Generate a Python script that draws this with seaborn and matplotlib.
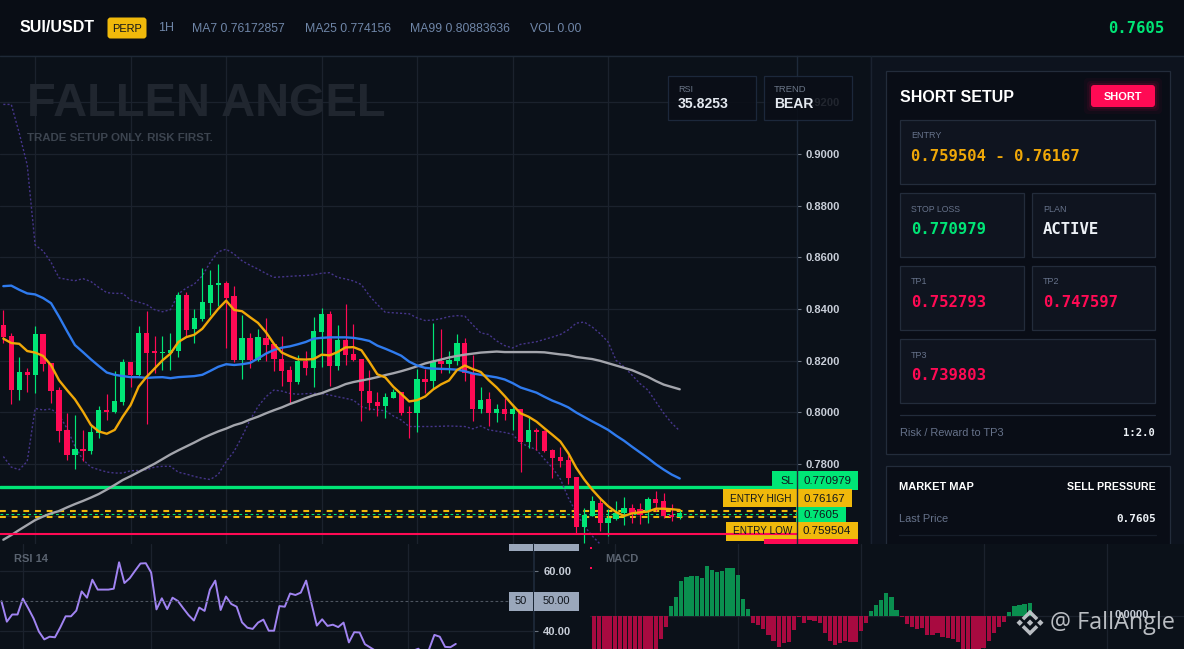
import numpy as np
import pandas as pd
import seaborn as sns
import matplotlib
matplotlib.use('Agg')
import matplotlib.pyplot as plt
from matplotlib.patches import Rectangle, FancyBboxPatch, Polygon

opens = [.8336,.8294,.8086,.8155,.8144,.8301,.8190,.8086,.7932,.7836,.7859,.7851,.7920,.8009,.8001,.8040,.8194,.8144,.8305,.8236,
         .8228,.8228,.8236,.8455,.8324,.8359,.8424,.8494,.8501,.8448,.8201,.8286,.8201,.8286,.8263,.8208,.8163,.8117,.8198,.8170,
         .8309,.8382,.8178,.8278,.8224,.8205,.8082,.8040,.8024,.8055,.8079,.8001,.7997,.8128,.8121,.8197,.8186,.8197,.8270,.8151,
         .8013,.8051,.7997,.8013,.7994,.8013,.7886,.7932,.7928,.7855,.7828,.7817,.7751,.7555,.7598,.7651,.7570,.7586,.7609,.7628,
         .7624,.7617,.7663,.7655,.7601,.7594]
closes = [.8290,.8087,.8155,.8144,.8301,.8186,.8082,.7928,.7836,.7859,.7851,.7924,.8009,.8001,.8044,.8194,.8144,.8305,.8228,.8228,
          .8232,.8240,.8455,.8320,.8363,.8428,.8494,.8501,.8444,.8201,.8286,.8201,.8290,.8259,.8205,.8159,.8117,.8198,.8170,.8313,
          .8382,.8178,.8278,.8221,.8201,.8082,.8036,.8024,.8059,.8078,.7997,.7997,.8128,.8117,.8197,.8186,.8201,.8270,.8151,.8013,
          .8047,.7997,.8013,.7994,.8013,.7886,.7932,.7924,.7851,.7824,.7813,.7747,.7555,.7601,.7655,.7570,.7590,.7612,.7628,.7609,
          .7601,.7663,.7651,.7597,.7594,.7609]
highs = [.8394,.8308,.8212,.8170,.8332,.8301,.8190,.8098,.7997,.7990,.7932,.7951,.8024,.8070,.8159,.8205,.8194,.8332,.8390,.8294,
         .8294,.8305,.8467,.8467,.8401,.8559,.8551,.8574,.8509,.8490,.8378,.8305,.8324,.8363,.8265,.8297,.8178,.8221,.8236,.8367,
         .8405,.8390,.8336,.8420,.8340,.8205,.8163,.8078,.8074,.8090,.8079,.8024,.8167,.8167,.8344,.8321,.8236,.8301,.8286,.8221,
         .8097,.8078,.8032,.8055,.8032,.8013,.7982,.7940,.7932,.7859,.7867,.7836,.7751,.7631,.7678,.7674,.7624,.7655,.7671,.7644,
         .7648,.7671,.7697,.7686,.7644,.7621]
lows = [.8268,.8032,.8047,.8078,.8074,.8159,.8036,.7886,.7816,.7782,.7813,.7840,.7901,.7970,.7997,.8028,.8098,.8140,.7955,.8151,
        .8163,.8163,.8213,.8294,.8270,.8355,.8378,.8413,.8247,.8193,.8128,.8170,.8197,.8197,.8159,.8101,.8036,.8109,.8144,.8098,
        .8174,.8101,.8163,.8182,.8197,.7967,.8009,.7986,.7978,.8055,.7990,.7901,.7924,.8074,.8090,.8151,.8151,.8182,.8120,.7967,
        .7997,.7947,.7963,.7971,.7932,.7770,.7863,.7855,.7847,.7744,.7790,.7724,.7535,.7494,.7598,.7540,.7521,.7582,.7563,.7571,
        .7567,.7571,.7617,.7590,.7578,.7586]

ma7 = [.8285,.8268,.8265,.8237,.8231,.8218,.8182,.8124,.8086,.8050,.8003,.7951,.7926,.7917,.7932,.7983,.8028,.8099,.8137,.8169,
       .8201,.8227,.8272,.8291,.8300,.8323,.8362,.8400,.8432,.8396,.8391,.8368,.8346,.8310,.8265,.8231,.8217,.8205,.8204,.8206,
       .8223,.8220,.8233,.8251,.8252,.8240,.8195,.8147,.8135,.8099,.8071,.8042,.8047,.8061,.8088,.8108,.8123,.8163,.8181,.8167,
       .8156,.8124,.8096,.8063,.8028,.7996,.7983,.7964,.7938,.7913,.7887,.7842,.7785,.7740,.7701,.7667,.7637,.7614,.7599,.7609,
       .7613,.7616,.7627,.7627,.7625,.7622]
ma25 = [.8488,.8490,.8474,.8460,.8456,.8442,.8422,.8370,.8314,.8260,.8233,.8205,.8179,.8154,.8145,.8140,.8136,.8136,.8133,.8135,
        .8136,.8132,.8136,.8138,.8140,.8145,.8160,.8176,.8186,.8183,.8186,.8191,.8208,.8227,.8241,.8250,.8255,.8263,.8272,.8285,
        .8288,.8290,.8290,.8290,.8288,.8283,.8276,.8258,.8246,.8233,.8219,.8196,.8181,.8172,.8169,.8168,.8167,.8165,.8159,.8150,
        .8145,.8140,.8135,.8127,.8113,.8096,.8086,.8076,.8060,.8045,.8033,.8019,.7999,.7982,.7965,.7949,.7932,.7910,.7890,.7867,
        .7845,.7823,.7799,.7778,.7759,.7744]
ma99 = [.7507,.7525,.7545,.7564,.7583,.7597,.7609,.7618,.7632,.7645,.7657,.7670,.7684,.7701,.7719,.7738,.7753,.7769,.7785,.7801,
        .7819,.7837,.7853,.7868,.7883,.7899,.7913,.7926,.7937,.7950,.7959,.7972,.7983,.7996,.8008,.8019,.8032,.8043,.8055,.8066,
        .8074,.8086,.8096,.8109,.8117,.8123,.8129,.8136,.8144,.8151,.8159,.8168,.8178,.8189,.8197,.8204,.8212,.8218,.8223,.8227,
        .8231,.8233,.8235,.8233,.8233,.8233,.8233,.8233,.8232,.8228,.8224,.8221,.8214,.8210,.8206,.8199,.8190,.8181,.8172,.8163,
        .8150,.8137,.8121,.8107,.8098,.8089]
bb_upper = [.9191,.9191,.9080,.8957,.8647,.8624,.8580,.8520,.8514,.8509,.8517,.8506,.8483,.8463,.8460,.8460,.8434,.8426,.8417,.8397,
            .8389,.8397,.8458,.8481,.8496,.8528,.8580,.8621,.8631,.8612,.8586,.8569,.8554,.8537,.8522,.8524,.8526,.8528,.8529,.8532,
            .8538,.8540,.8522,.8516,.8508,.8494,.8451,.8417,.8387,.8385,.8383,.8381,.8365,.8355,.8357,.8362,.8370,.8374,.8372,.8338,
            .8307,.8301,.8276,.8258,.8249,.8263,.8268,.8273,.8282,.8291,.8301,.8319,.8345,.8349,.8330,.8304,.8272,.8201,.8176,.8144,
            .8111,.8086,.8041,.7996,.7958,.7928]
bb_lower = [.7829,.7788,.7778,.7810,.8015,.8009,.8013,.7990,.7938,.7868,.7817,.7788,.7778,.7769,.7765,.7765,.7774,.7775,.7778,.7788,
            .7791,.7791,.7768,.7761,.7752,.7745,.7740,.7759,.7810,.7849,.7906,.7970,.8022,.8060,.8086,.8082,.8073,.8070,.8072,.8073,
            .8073,.8067,.8060,.8054,.8047,.8022,.8013,.8009,.8006,.7986,.7970,.7945,.7945,.7945,.7945,.7946,.7947,.7946,.7945,.7936,
            .7947,.7932,.7927,.7922,.7915,.7881,.7868,.7855,.7819,.7785,.7742,.7669,.7612,.7560,.7522,.7490]

rsi = [50,43.2,45.6,45.6,50.9,47.7,44.3,39.9,37.3,38.2,38.0,41.3,45.0,45.0,46.9,53.3,51.2,57.2,53.9,53.9,
       53.9,54.2,63.0,56.1,57.7,60.2,62.6,62.7,59.6,47.3,51.0,47.4,51.2,50.1,47.7,45.4,43.6,47.9,46.8,53.9,
       56.9,47.1,51.6,49.1,48.2,43.0,41.2,40.8,42.9,43.9,40.2,40.2,48.4,48.2,52.6,52.1,52.9,56.9,49.3,41.9,
       44.0,41.8,42.2,41.4,42.9,36.3,39.7,39.6,35.7,34.6,33.5,33,32.5,32,32,32.5,33,33.5,34.2,32,
       34.0,38.8,38.2,34.8,34.7,35.8]

macd_hist = [-.0030,-.0031,-.0030,-.0028,-.0027,-.0027,-.0026,-.0025,-.0024,-.0023,-.0022,-.0022,-.0021,-.0014,-.00068,
             .00058,.00112,.00208,.00232,.00238,.00238,.00226,.00298,.00274,.00260,.00268,.00286,.00286,.00244,.00100,.00040,
             -.00042,-.00054,-.00078,-.00116,-.00152,-.00186,-.00164,-.00156,-.00086,-.00008,-.00042,-.00026,-.00032,-.00044,
             -.00102,-.00152,-.00174,-.00166,-.00152,-.00156,-.00156,-.00090,-.00042,
             .00028,.00064,.00094,.00136,.00112,.00034,
             -.00008,-.00050,-.00068,-.00080,-.00074,-.00116,-.00116,-.00104,-.00128,-.00136,-.00140,-.00156,-.0021,-.0023,-.0024,
             -.0022,-.00194,-.00152,-.00104,-.00070,-.00038,
             .00022,.00058,.00064,.00070,.00076]

price_ticks = [.76,.78,.80,.82,.84,.86,.88,.90,.92]
price_tick_labels = ['','0.7800','0.8000','0.8200','0.8400','0.8600','0.8800','0.9000','0.9200']
stop_loss = 0.770979
entry_high = 0.76167
entry_low = 0.759504
last_price = 0.7605
tp1 = 0.752793

W, H = 1184, 649
BG = '#0b1119'
GRID = '#1b222d'
GREEN = '#00e676'
RED = '#ff0a54'
AMBER = '#f0b90b'
UI = ['Liberation Sans', 'DejaVu Sans']
MONO = ['DejaVu Sans Mono']

sns.set_theme(style='dark')
plt.rcParams['font.family'] = UI
plt.rcParams['axes.facecolor'] = BG
plt.rcParams['axes.grid'] = False


def box(l, t, r, b):
    return [l / W, 1 - b / H, (r - l) / W, (b - t) / H]


fig = plt.figure(figsize=(W / 100, H / 100), dpi=100, facecolor=BG)

# main price chart
ax = fig.add_axes(box(0, 56, 796.7, 544), zorder=1)
ui = fig.add_axes([0, 0, 1, 1], zorder=2)
ui.set_xlim(0, W)
ui.set_ylim(H, 0)
ui.axis('off')
ui.patch.set_alpha(0)

idx = np.arange(len(opens))
o = np.array(opens)
c = np.array(closes)
colors = [GREEN if c[i] >= o[i] else RED for i in idx]
ax.vlines(idx, lows, highs, colors=colors, linewidth=0.85, zorder=4)
ax.bar(idx, np.abs(c - o), bottom=np.minimum(o, c), width=0.66, color=colors, linewidth=0, zorder=4)

sns.lineplot(x=np.arange(len(bb_upper)), y=bb_upper, ax=ax, color='#45358a', linewidth=1, linestyle=(0, (1.5, 1.5)), zorder=3)
sns.lineplot(x=np.arange(len(bb_lower)), y=bb_lower, ax=ax, color='#45358a', linewidth=1, linestyle=(0, (1.5, 1.5)), zorder=3)
sns.lineplot(x=idx, y=ma99, ax=ax, color='#a3a5ac', linewidth=1.7, zorder=5)
sns.lineplot(x=idx, y=ma25, ax=ax, color='#2f7bee', linewidth=1.7, zorder=5)
sns.lineplot(x=idx, y=ma7, ax=ax, color='#f0a808', linewidth=1.7, zorder=6)

ax.axhline(stop_loss, color=GREEN, linewidth=2.4, zorder=1.2)
ax.axhline(entry_high, color=AMBER, linewidth=1.5, linestyle=(0, (2.8, 2.8)), zorder=3.5)
ax.axhline(entry_low, color=AMBER, linewidth=1.5, linestyle=(0, (2.8, 2.8)), zorder=3.5)
ax.axhline(last_price, color=GREEN, linewidth=0.8, linestyle=(0, (2.5, 2.5)), zorder=3.5)
ax.axhline(tp1, color=RED, linewidth=1.5, zorder=7)

ax.set_xlim(-0.418, 99.7)
ax.set_ylim(0.8 - (544 - 412.3) / 2585, 0.8 + (412.3 - 56) / 2585)
ax.set_xticks(range(4, 88, 12))
ax.set_xticklabels([])
ax.yaxis.tick_right()
ax.set_yticks(price_ticks)
ax.set_yticklabels(price_tick_labels, fontsize=8, fontweight='bold', color='#c8ced8')
ax.tick_params(axis='y', length=3, width=0.8, color='#6b7480', pad=3, right=True)
ax.tick_params(axis='x', length=0)
ax.grid(True, color=GRID, linewidth=0.9)
ax.set_axisbelow(True)
for s in ['top', 'left', 'bottom']:
    ax.spines[s].set_visible(False)
ax.spines['right'].set_color('#1e2a3a')
ax.spines['right'].set_linewidth(1)
ax.spines['right'].set_zorder(8)


def rect(target, l, t, r, b, fc, ec='none', lw=0.9, z=1, alpha=None):
    p = Rectangle((l, t), r - l, b - t, facecolor=fc, edgecolor=ec, linewidth=lw, zorder=z, alpha=alpha,
                  transform=ui.transData, clip_on=False)
    target.add_patch(p)


def txt(x, y, s, size, color, weight='normal', family=None, ha='left', z=10, alpha=None):
    ui.text(x, y + 1, s, fontsize=size * 0.72, color=color, fontweight=weight, family=family or UI,
            ha=ha, va='center', zorder=z, alpha=alpha)


# price labels on the scale
rect(ax, 772, 471, 858, 490, GREEN, z=1.5)
rect(ax, 723, 489, 852, 507, AMBER, z=1.5)
rect(ax, 796, 507, 846, 522, GREEN, z=1.5)
rect(ax, 726, 522, 858, 541, AMBER, z=1.5)
rect(ax, 764, 539, 858, 544, RED, z=1.5)
dark = '#10151c'
txt(780, 480, 'SL', 11, dark)
txt(827, 480, '0.770979', 11.5, dark, ha='center')
txt(761, 497.5, 'ENTRY HIGH', 10, dark, ha='center')
txt(824, 497.5, '0.76167', 11.5, dark, ha='center')
txt(821, 514, '0.7605', 11.5, dark, ha='center')
txt(763, 530.5, 'ENTRY LOW', 10, dark, ha='center', z=1)
txt(827, 530.5, '0.759504', 11.5, dark, ha='center')

# watermark on the chart
txt(27, 103, 'FALLEN ANGEL', 47, '#20262f', weight='bold', z=1)
txt(27, 137, 'TRADE SETUP ONLY. RISK FIRST.', 11.5, '#3c444f', weight='bold', z=1)

# RSI / trend chips
for l, r in [(668.3, 755.7), (764.3, 851.7)]:
    rect(ui, l, 76, r, 119.5, '#0a0e17', ec='#1f2c40', z=3, alpha=0.88)
txt(678, 88, 'RSI', 9, '#6b7688', z=4)
txt(678, 103, '35.8253', 14, '#e4e9f0', weight='bold', z=4)
txt(774, 88, 'TREND', 9.5, '#6b7688', z=4)
txt(774, 103, 'BEAR', 14, '#e4e9f0', weight='bold', z=4)

# header
rect(ui, 0, 0, W, 55, '#090d15', z=1)
ui.plot([0, W], [55.5, 55.5], color='#1e2836', linewidth=1, zorder=2)
txt(20, 27, 'SUI/USDT', 16, '#ffffff', weight='bold', z=4)
ui.add_patch(FancyBboxPatch((108, 18), 38, 20, boxstyle='round,pad=0.5,rounding_size=3', fc=AMBER, ec='none', zorder=3))
txt(127, 27.5, 'PERP', 11, '#10151c', ha='center', z=4)
txt(158, 27, '1H', 12.5, '#6f86a8', z=4)
txt(192, 27.5, 'MA7 0.76172857', 12.3, '#6f86a8', z=4)
txt(305, 27.5, 'MA25 0.774156', 12.3, '#6f86a8', z=4)
txt(410, 27.5, 'MA99 0.80883636', 12.3, '#6f86a8', z=4)
txt(530, 27.5, 'VOL 0.00', 12.3, '#6f86a8', z=4)
txt(1164, 27.5, '0.7605', 15.5, GREEN, weight='bold', family=MONO, ha='right', z=4)

# right side panel
rect(ui, 870, 56, W, 544, '#0d131e', z=1)
ui.plot([870.5, 870.5], [56, 544], color='#1a2230', linewidth=1, zorder=2)
CARD = '#090d16'
INNER = '#0f141f'
EDGE = '#232c3b'
rect(ui, 885.5, 71, 1169.5, 453.5, CARD, ec=EDGE, z=2)
rect(ui, 885.5, 466, 1169.5, 560, CARD, ec=EDGE, z=2)
txt(900, 96, 'SHORT SETUP', 16, '#ffffff', weight='bold', z=4)
for g, a in [(7, 0.04), (4, 0.07), (2, 0.1)]:
    ui.add_patch(FancyBboxPatch((1091 - g, 85 - g), 64 + 2 * g, 22 + 2 * g, boxstyle='round,pad=0,rounding_size=4',
                                fc=RED, ec='none', alpha=a, zorder=2.5))
ui.add_patch(FancyBboxPatch((1091, 85), 64, 22, boxstyle='round,pad=0,rounding_size=3', fc=RED, ec='none', zorder=3))
txt(1123, 95.5, 'SHORT', 11, '#ffffff', weight='bold', ha='center', z=4)

cards = [(900, 119.5, 1155, 183.5), (900, 192.5, 1024, 256.5), (1032, 192.5, 1155, 256.5),
         (900, 265.5, 1024, 329.5), (1032, 265.5, 1155, 329.5), (900, 338.5, 1155, 402.5)]
for l, t, r, b in cards:
    rect(ui, l, t, r, b, INNER, ec=EDGE, z=3)
LBL = '#66728a'
txt(911, 135, 'ENTRY', 9, LBL, z=4)
txt(911, 155.5, '0.759504 - 0.76167', 15.6, '#f0a808', weight='bold', family=MONO, z=4)
txt(911, 208, 'STOP LOSS', 8.8, LBL, z=4)
txt(911, 228.5, '0.770979', 15.6, GREEN, weight='bold', family=MONO, z=4)
txt(1043, 208, 'PLAN', 9, LBL, z=4)
txt(1043, 228.5, 'ACTIVE', 15.6, '#eef2f7', weight='bold', family=MONO, z=4)
txt(911, 281, 'TP1', 9, LBL, z=4)
txt(911, 301.5, '0.752793', 15.6, RED, weight='bold', family=MONO, z=4)
txt(1043, 281, 'TP2', 9, LBL, z=4)
txt(1043, 301.5, '0.747597', 15.6, RED, weight='bold', family=MONO, z=4)
txt(911, 354, 'TP3', 9, LBL, z=4)
txt(911, 374.5, '0.739803', 15.6, RED, weight='bold', family=MONO, z=4)
ui.plot([900, 1155], [414.5, 414.5], color=EDGE, linewidth=0.9, zorder=3)
txt(900, 431.5, 'Risk / Reward to TP3', 11, LBL, z=4)
txt(1155, 432, '1:2.0', 10.5, '#eef2f7', weight='bold', family=MONO, ha='right', z=4)
txt(899, 486, 'MARKET MAP', 11, '#ffffff', weight='bold', z=4)
txt(1156, 486, 'SELL PRESSURE', 10.6, '#ffffff', weight='bold', ha='right', z=4)
txt(899, 518.5, 'Last Price', 11, LBL, z=4)
txt(1156, 518.5, '0.7605', 11, '#eef2f7', weight='bold', family=MONO, ha='right', z=4)
ui.plot([899, 1156], [534.5, 534.5], color='#171e2a', linewidth=0.9, zorder=3)

# RSI panel
ax_rsi = fig.add_axes(box(0, 544, 533.6, 649), zorder=3)
sns.lineplot(x=np.arange(len(rsi)), y=rsi, ax=ax_rsi, color='#a184f2', linewidth=1.4)
ax_rsi.set_xlim(-0.28, 99.56)
ax_rsi.set_ylim(50 + (601.3 - 649) / 3, 50 + (601.3 - 544) / 3)
ax_rsi.set_xticks([4, 28, 52, 76])
ax_rsi.set_xticklabels([])
ax_rsi.yaxis.tick_right()
ax_rsi.set_yticks([40, 60])
ax_rsi.set_yticklabels(['40.00', '60.00'], fontsize=8, fontweight='bold', color='#c8ced8')
ax_rsi.tick_params(axis='y', length=3, width=0.8, color='#6b7480', pad=4)
ax_rsi.tick_params(axis='x', length=0)
ax_rsi.grid(True, color=GRID, linewidth=0.9)
ax_rsi.set_axisbelow(True)
ax_rsi.axhline(50, color='#4d5560', linewidth=0.8, linestyle=(0, (2.5, 2)))
for s in ['top', 'left', 'bottom']:
    ax_rsi.spines[s].set_visible(False)
ax_rsi.spines['right'].set_color('#1e2a3a')
ax_rsi.text(0.026, 0.855, 'RSI 14', transform=ax_rsi.transAxes, fontsize=8, fontweight='bold', color='#5a6370', va='center')

# overlay for the two slate level tags, cut off at the panel top
tags = fig.add_axes(box(500, 544, 590, 649), zorder=4)
tags.set_xlim(500, 590)
tags.set_ylim(649, 544)
tags.axis('off')
tags.patch.set_alpha(0)
for level, yc in [(50, 601.3), (70, 541.3)]:
    tags.add_patch(Rectangle((509, yc - 9.5), 24.3, 19, facecolor='#9aa7bb', edgecolor='none'))
    tags.add_patch(Rectangle((534.3, yc - 9.5), 44.7, 19, facecolor='#9aa7bb', edgecolor='none'))
    tags.text(521, yc, str(level), fontsize=8, color='#10151c', ha='center', va='center', clip_on=True)
    tags.text(556.5, yc, '%d.00' % level, fontsize=8, color='#10151c', ha='center', va='center', clip_on=True)

# MACD panel
ax_macd = fig.add_axes(box(590, 544, W, 649), zorder=3)
df_macd = pd.DataFrame({'i': np.arange(len(macd_hist)), 'hist': macd_hist})
df_macd['side'] = np.where(df_macd['hist'] >= 0, 'up', 'down')
sns.barplot(data=df_macd, x='i', y='hist', hue='side', palette={'up': '#0a8f4f', 'down': '#a80a40'}, native_scale=True,
            width=0.84, dodge=False, saturation=1, legend=False, linewidth=0, ax=ax_macd)
ax_macd.set_xlim(-0.82, 115.1)
ax_macd.set_ylim((227 - 327) * 0.00002, (227 - 12) * 0.00002)
ax_macd.set_xticks([4, 28, 52, 76, 100])
ax_macd.set_xticklabels([])
ax_macd.set_yticks([0])
ax_macd.set_yticklabels([])
ax_macd.set_xlabel('')
ax_macd.set_ylabel('')
ax_macd.tick_params(length=0)
ax_macd.grid(True, color=GRID, linewidth=0.9)
ax_macd.set_axisbelow(True)
for s in ax_macd.spines.values():
    s.set_visible(False)

# top layer for what sits over the panels
top = fig.add_axes([0, 0, 1, 1], zorder=5)
top.set_xlim(0, W)
top.set_ylim(H, 0)
top.axis('off')
top.patch.set_alpha(0)
top.text(605, 559.5, 'MACD', fontsize=8, fontweight='bold', color='#5a6370', va='center')
top.text(1131.5, 615, '0.0000', fontsize=8, fontweight='bold', color='#c8ced8', ha='center', va='center')
for y in [548, 568]:
    top.add_patch(Rectangle((590, y - 1), 2, 2, facecolor=RED, edgecolor='none'))

# binance style logo and handle
lc = '#c4c7cc'
cx, cy = 1030, 622.7
for poly in [[(0, -3.2), (3.2, 0), (0, 3.2), (-3.2, 0)],
             [(-13.5, 0), (-10.3, -3.2), (-7.1, 0), (-10.3, 3.2)],
             [(13.5, 0), (10.3, -3.2), (7.1, 0), (10.3, 3.2)],
             [(0, -13), (8.3, -4.8), (5.8, -2.3), (0, -8), (-5.8, -2.3), (-8.3, -4.8)],
             [(0, 13), (8.3, 4.8), (5.8, 2.3), (0, 8), (-5.8, 2.3), (-8.3, 4.8)]]:
    top.add_patch(Polygon([(cx + a, cy + b) for a, b in poly], closed=True, facecolor=lc, edgecolor='none', alpha=0.95))
top.text(1050, 623, '@ FallAngle', fontsize=16.8, color=lc, family='Open Sans', va='center', alpha=0.95)

fig.savefig('out.png', dpi=100, facecolor=BG)
